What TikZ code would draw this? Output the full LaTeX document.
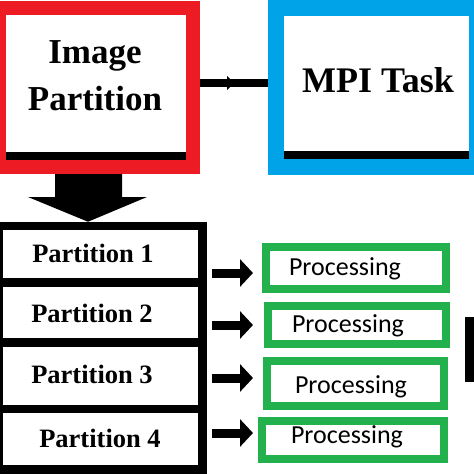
\documentclass[tikz,border=0pt]{standalone}
\usepackage{fontspec}
\setmainfont{Liberation Serif}
\newfontfamily\procfont{Carlito}
\usetikzlibrary{calc,arrows.meta,decorations.markings}
\definecolor{pRed}{HTML}{ED1C24}
\definecolor{pBlue}{HTML}{00A2E8}
\definecolor{pGreen}{HTML}{22B14C}
\tikzset{
  framebox/.style={draw, rectangle, inner sep=0pt, fill=white},
  titletext/.style={font=\fontsize{35}{47}\selectfont\bfseries, inner sep=0pt, anchor=base},
  parttext/.style={font=\fontsize{26.5}{30}\selectfont\bfseries, inner sep=0pt, anchor=base},
  proctext/.style={font=\procfont\fontsize{26}{30}\selectfont, inner sep=0pt, anchor=base},
  partbox/.style={framebox, draw=black, line width=8.5pt, minimum width=203.75pt},
  procbox/.style={framebox, draw=pGreen, line width=8pt},
  fatarrow/.style={draw=black, line width=9pt, -{Triangle[length=13pt,width=27pt]}},
}
\begin{document}
\begin{tikzpicture}[x=1pt,y=-1pt]
\useasboundingbox (0,0) rectangle (474,474);

% top row: image partition and MPI task
\node[framebox, draw=pRed, line width=14pt, minimum width=194pt, minimum height=159pt] (img) at (96,87.5) {};
\fill[black] ($(img.south west)+(14,-14)$) rectangle ($(img.south east)+(-14,-22)$);
\node[titletext] (imgtxt) at (95,63) {Image};
\node[titletext] (imgtxt2) at (95,110) {Partition};

\node[framebox, draw=pBlue, line width=16pt, minimum width=201pt, minimum height=159pt] (mpi) at (376.5,87.5) {};
\fill[black] ($(mpi.south west)+(16,-16)$) rectangle ($(mpi.south east)+(-16,-24)$);
\node[titletext, font=\fontsize{36}{40}\selectfont\bfseries] (mpitxt) at (378,92) {MPI Task};

\draw[black, line width=8pt,
  postaction={decorate, decoration={markings,
    mark=at position 0.5 with {\arrow{Triangle[length=7pt,width=14pt]}}}}]
  ([yshift=4.5pt]img.east) -- ([yshift=4.5pt]mpi.west);

% partition stack
\node[partbox, minimum height=56.5pt] (p1) at (100.6,254.25) {};
\node[partbox, minimum height=60pt]   (p2) at (100.6,312.5) {};
\node[partbox, minimum height=66.5pt] (p3) at (100.6,375.75) {};
\node[partbox, minimum height=60.5pt] (p4) at (100.6,439.25) {};
\node[parttext] (t1) at (93,262) {Partition 1};
\node[parttext] (t2) at (92,322) {Partition 2};
\node[parttext] (t3) at (92,383) {Partition 3};
\node[parttext] (t4) at (100,447) {Partition 4};

% broad arrow from the image box down to the stack
\fill[black] ($(img.south)+(-41,0)$) -- ($(img.south)+(26,0)$) -- ($(img.south)+(26,23)$)
  -- ($(img.south)+(51,23)$) -- ($(p1.north)+(-12.6,0)$) -- ($(img.south)+(-68,23)$)
  -- ($(img.south)+(-41,23)$) -- cycle;

% processing boxes
\node[procbox, minimum width=180pt, minimum height=42pt] (g1) at (356,268) {};
\node[procbox, minimum width=178pt, minimum height=38pt] (g2) at (357,325) {};
\node[procbox, minimum width=177pt, minimum height=45pt] (g3) at (355.5,383.5) {};
\node[procbox, minimum width=182pt, minimum height=38pt] (g4) at (353,440) {};
\node[proctext] (r1) at (345,275) {Processing};
\node[proctext] (r2) at (348,332) {Processing};
\node[proctext] (r3) at (351,393) {Processing};
\node[proctext] (r4) at (347,443) {Processing};

% arrows from partitions to processing
\coordinate (y1) at (0,273);
\coordinate (y2) at (0,325);
\coordinate (y3) at (0,378);
\coordinate (y4) at (0,433);
\draw[fatarrow, shorten <=5pt, shorten >=9pt] (p1.east |- y1) -- (g1.west |- y1);
\draw[fatarrow, shorten <=5pt, shorten >=11pt] (p2.east |- y2) -- (g2.west |- y2);
\draw[fatarrow, shorten <=5pt, shorten >=10pt] (p3.east |- y3) -- (g3.west |- y3);
\draw[fatarrow, shorten <=5pt, shorten >=5pt] (p4.east |- y4) -- (g4.west |- y4);

% block at the right edge
\node[fill=black, inner sep=0pt, minimum width=15pt, minimum height=65pt] (blk) at (472.5,349.5) {};
\end{tikzpicture}
\end{document}
